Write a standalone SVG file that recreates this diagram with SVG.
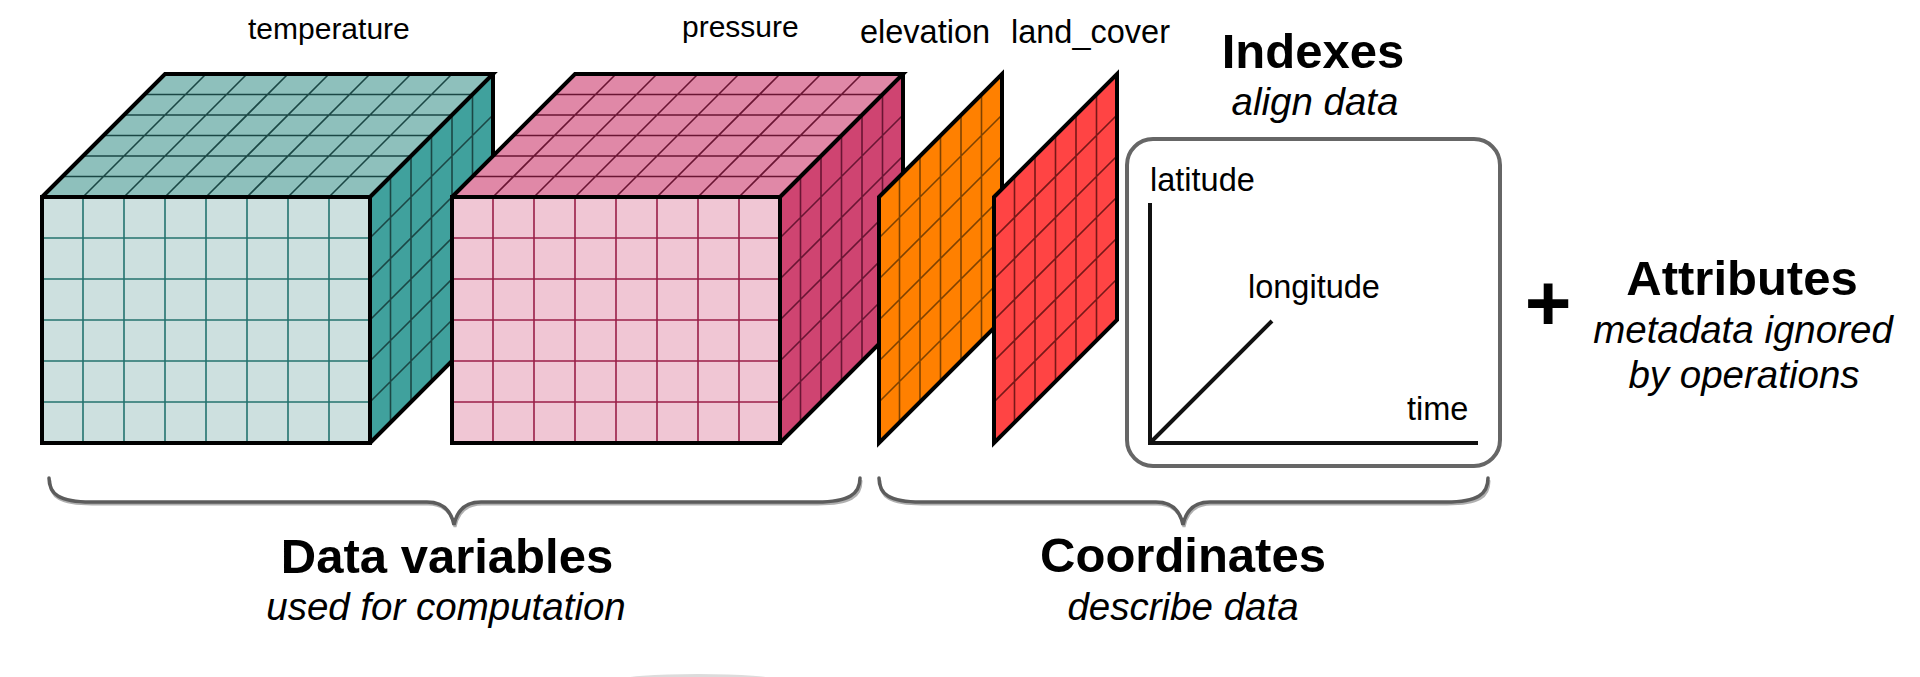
<svg xmlns="http://www.w3.org/2000/svg" width="1920" height="677" viewBox="0 0 1920 677">
<style>
text{font-family:"Liberation Sans",Arial,Helvetica,sans-serif;fill:#000}
.lbl{font-size:30px}
.lbl2{font-size:32.5px}
.title{font-size:49px;font-weight:bold;text-anchor:middle}
.sub{font-size:38.5px;font-style:italic;text-anchor:middle}
.edge{fill:none;stroke:#000;stroke-width:4;stroke-linejoin:miter}
.g{fill:none;stroke-width:1.6}
.t-front{fill:#cde0df}.t-top{fill:#8ec0bc}.t-side{fill:#40a19d}
.t-gf{stroke:#24736f}.t-gd{stroke:#1b4745}
.p-front{fill:#f0c6d4}.p-top{fill:#e088a7}.p-side{fill:#cf4471}
.p-gf{stroke:#9a1f48}.p-gd{stroke:#6a1533}
.o-fill{fill:#ff8000}.o-g{stroke:#7f4200}
.r-fill{fill:#ff4444}.r-g{stroke:#781818}
.brace{fill:none;stroke:#5c5c5c;stroke-width:3.5;stroke-linecap:round}
.brace-sh{fill:none;stroke:#b0b0b0;stroke-width:3;stroke-linecap:round}
.axis{fill:none;stroke:#111;stroke-width:4}
</style>
<defs>
<g id="cubeFront">
<path d="M41,0V246M82,0V246M123,0V246M164,0V246M205,0V246M246,0V246M287,0V246M0,41H328M0,82H328M0,123H328M0,164H328M0,205H328"/>
</g>
<g id="cubeDepth">
<path d="M20.5,-20.5H348.5M41,-41H369M61.5,-61.5H389.5M82,-82H410M102.5,-102.5H430.5M41,0L164,-123M82,0L205,-123M123,0L246,-123M164,0L287,-123M205,0L328,-123M246,0L369,-123M287,0L410,-123"/>
<path d="M348.5,-20.5V225.5M369,-41V205M389.5,-61.5V184.5M410,-82V164M430.5,-102.5V143.5M328,41L451,-82M328,82L451,-41M328,123L451,0M328,164L451,41M328,205L451,82"/>
</g>
<g id="panelGrid">
<path d="M20.5,-20.5V225.5M41,-41V205M61.5,-61.5V184.5M82,-82V164M102.5,-102.5V143.5M0,41L123,-82M0,82L123,-41M0,123L123,0M0,164L123,41M0,205L123,82"/>
</g>
</defs>

<g id="temperature" transform="translate(42,197)">
<rect class="t-front" x="0" y="0" width="328" height="246"/>
<polygon class="t-top" points="0,0 123,-123 451,-123 328,0"/>
<polygon class="t-side" points="328,0 451,-123 451,123 328,246"/>
<use href="#cubeFront" class="g t-gf"/>
<use href="#cubeDepth" class="g t-gd"/>
<path class="edge" d="M0,0H328V246H0Z M0,0L123,-123H451L328,0 M451,-123V123L328,246"/>
</g>

<g id="pressure" transform="translate(452,197)">
<rect class="p-front" x="0" y="0" width="328" height="246"/>
<polygon class="p-top" points="0,0 123,-123 451,-123 328,0"/>
<polygon class="p-side" points="328,0 451,-123 451,123 328,246"/>
<use href="#cubeFront" class="g p-gf"/>
<use href="#cubeDepth" class="g p-gd"/>
<path class="edge" d="M0,0H328V246H0Z M0,0L123,-123H451L328,0 M451,-123V123L328,246"/>
</g>

<g id="elevation" transform="translate(879,197)">
<polygon class="o-fill" points="0,0 123,-123 123,123 0,246"/>
<use href="#panelGrid" class="g o-g"/>
<polygon class="edge" points="0,0 123,-123 123,123 0,246"/>
</g>

<g id="land_cover" transform="translate(994,197)">
<polygon class="r-fill" points="0,0 123,-123 123,123 0,246"/>
<use href="#panelGrid" class="g r-g"/>
<polygon class="edge" points="0,0 123,-123 123,123 0,246"/>
</g>

<g id="labels">
<text class="lbl" x="248" y="39">temperature</text>
<text class="lbl" x="682" y="37">pressure</text>
<text class="lbl2" x="860" y="43">elevation</text>
<text class="lbl2" x="1011" y="43">land_cover</text>
</g>

<g id="indexes">
<text class="title" x="1313" y="68">Indexes</text>
<text class="sub" x="1315" y="115">align data</text>
<rect x="1127" y="139" width="373" height="327" rx="26" ry="26" fill="none" stroke="#666" stroke-width="4"/>
<path class="axis" d="M1150,203V443H1478 M1150,443L1272,321"/>
<text class="lbl2" x="1150" y="191">latitude</text>
<text class="lbl2" x="1248" y="298">longitude</text>
<text class="lbl2" x="1407" y="420">time</text>
</g>

<g id="attributes">
<text x="1548" y="330" style="font-size:80px;font-weight:bold;text-anchor:middle">+</text>
<text class="title" x="1742" y="295">Attributes</text>
<text class="sub" x="1743" y="343">metadata ignored</text>
<text class="sub" x="1744" y="388">by operations</text>
</g>

<g id="connectors">
<path class="brace-sh" d="M50,481 C50,497 60,504 92,504 H428 C444,504 452,512 455,527 C458,512 466,504 482,504 H818 C850,504 861,497 861,481"/>
<path class="brace" d="M49,478 C49,494 59,502 91,502 H427 C443,502 451,510 454,525 C457,510 465,502 481,502 H817 C849,502 860,494 860,478"/>
<path class="brace-sh" d="M880,481 C880,497 890,504 922,504 H1157 C1173,504 1181,512 1184,527 C1187,512 1195,504 1211,504 H1447 C1479,504 1489,497 1489,481"/>
<path class="brace" d="M879,478 C879,494 889,502 921,502 H1156 C1172,502 1180,510 1183,525 C1186,510 1194,502 1210,502 H1446 C1478,502 1488,494 1488,478"/>
</g>

<g id="data_variables">
<text class="title" x="447" y="573">Data variables</text>
<text class="sub" x="446" y="620">used for computation</text>
</g>

<g id="coordinates">
<text class="title" x="1183" y="572">Coordinates</text>
<text class="sub" x="1183" y="620">describe data</text>
</g>

<ellipse cx="698" cy="680" rx="78" ry="6" fill="#dcdcdc"/>
</svg>
